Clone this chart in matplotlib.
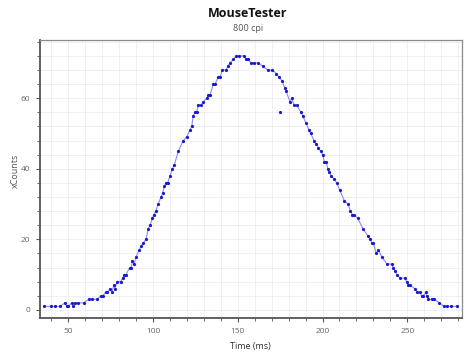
import numpy as np
import matplotlib
matplotlib.use("Agg")
import matplotlib.pyplot as plt
from matplotlib.ticker import MultipleLocator

plt.rcParams['font.family'] = ['Open Sans', 'DejaVu Sans']

# MouseTester capture, 800 cpi: time (ms) vs xCounts
time_ms = [
    35.5, 39.6, 42.2, 45.1, 48.0, 49.0, 50.0, 52.0, 53.0, 54.0, 56.0, 59.0,
    62.0, 64.0, 67.0, 69.3, 70.3, 72.1, 73.0, 74.7, 75.8, 76.8, 77.5, 78.8,
    80.8, 82.0, 83.1, 84.0, 86.2, 87.2, 87.8, 88.8, 89.9, 91.9, 92.9, 94.3,
    95.8, 97.2, 98.2, 99.6, 100.6, 101.6, 103.0, 104.7, 105.7, 106.6, 107.6,
    108.6, 110.0, 111.4, 112.5, 114.9, 117.8, 119.8, 121.8, 122.8, 123.7,
    124.7, 125.7, 126.7, 128.3, 129.6, 131.7, 132.6, 133.6, 135.6, 136.6,
    138.5, 139.5, 140.9, 143.1, 144.0, 145.4, 147.3, 149.0, 150.9, 153.7,
    154.8, 156.2, 157.8, 159.8, 162.2, 164.7, 167.6, 170.4, 172.8, 174.2,
    175.1, 176.1, 177.6, 178.5, 180.8, 181.8, 183.3, 184.7, 187.3, 188.3,
    190.2, 192.0, 193.0, 195.0, 196.2, 197.5, 198.9, 200.1, 201.0, 202.0,
    203.1, 204.1, 205.0, 207.0, 208.4, 210.1, 212.8, 215.0, 216.5, 217.6,
    218.5, 220.8, 223.8, 226.8, 228.0, 229.3, 230.0, 231.7, 233.0, 235.0,
    238.0, 240.8, 241.7, 242.7, 244.0, 245.7, 248.6, 249.6, 250.6, 251.6,
    254.5, 255.9, 257.5, 258.5, 259.4, 261.0, 261.4, 262.4, 264.4, 265.8,
    269.0, 271.4, 273.4, 275.8, 279.2,
]
x_counts = [
    1, 1, 1, 1, 2, 1, 1, 2, 1, 2, 2, 2,
    3, 3, 3, 4, 4, 5, 5, 6, 5, 7, 6, 8,
    8, 9, 10, 10, 12, 12, 14, 13, 15, 17, 18, 19,
    20, 23, 24, 26, 27, 28, 30, 32, 33, 35, 36,
    36, 38, 40, 41, 45, 48, 49, 51, 52, 55,
    56, 56, 58, 58, 59, 60, 61, 61, 64, 64,
    66, 66, 68, 68, 69, 70, 71, 72, 72, 72,
    71, 71, 70, 70, 70, 69, 68, 68, 67, 66,
    56, 65, 63, 62, 59, 60, 58, 58, 56, 55,
    53, 51, 50, 48, 47, 46, 45, 44, 42, 42,
    40, 39, 38, 37, 36, 34, 31, 30, 28, 27,
    27, 26, 23, 21, 20, 19, 19, 16, 17, 15,
    13, 13, 12, 11, 10, 9, 9, 8, 7, 7,
    6, 5, 5, 4, 4, 5, 4, 3, 3, 3,
    2, 1, 1, 1, 1,
]

t = np.array(time_ms)
c = np.array(x_counts, dtype=float)

# the connecting line skips isolated spikes (point far from both neighbours)
keep = np.ones(len(c), dtype=bool)
for i in range(1, len(c) - 1):
    if abs(c[i] - c[i - 1]) > 5 and abs(c[i] - c[i + 1]) > 5:
        keep[i] = False

fig = plt.figure(figsize=(4.74, 3.55), dpi=100)
ax = fig.add_axes([0.0844, 0.1042, 0.8896, 0.7831])

ax.plot(t[keep], c[keep], color='#8c8cf0', linewidth=0.8, zorder=2)
ax.plot(t, c, linestyle='none', marker='o', markersize=2.3,
        color='#1818cc', markeredgewidth=0, zorder=3)

ax.set_xlim(33.3, 282.1)
ax.set_ylim(-2.3, 76.5)
ax.xaxis.set_major_locator(MultipleLocator(50))
ax.xaxis.set_minor_locator(MultipleLocator(10))
ax.yaxis.set_major_locator(MultipleLocator(20))
ax.yaxis.set_minor_locator(MultipleLocator(4))

ax.grid(True, which='both', color='#ececf2', linewidth=0.6)
ax.set_axisbelow(True)

for side in ['top', 'right']:
    ax.spines[side].set_color('#8a8a8a')
    ax.spines[side].set_linewidth(0.9)
for side in ['left', 'bottom']:
    ax.spines[side].set_color('#555555')
    ax.spines[side].set_linewidth(1.3)

ax.tick_params(which='major', direction='out', length=3, width=0.8,
               color='#555555', labelsize=6, labelcolor='#666666', pad=4)
ax.tick_params(which='minor', direction='out', length=2, width=0.6, color='#555555')
ax.tick_params(top=False, right=False, which='both')

ax.set_xlabel('Time (ms)', fontsize=6.5, color='#333333')
ax.set_ylabel('xCounts', fontsize=6.5, color='#555555')
ax.xaxis.set_label_coords(0.5, -0.085)
ax.yaxis.set_label_coords(-0.047, 0.53)

fig.text(0.523, 0.963, 'MouseTester', ha='center', va='center',
         fontsize=9, fontweight='bold', color='#111111')
fig.text(0.523, 0.921, '800 cpi', ha='center', va='center',
         fontsize=6.5, color='#555555')

fig.savefig('out.png', dpi=100)
